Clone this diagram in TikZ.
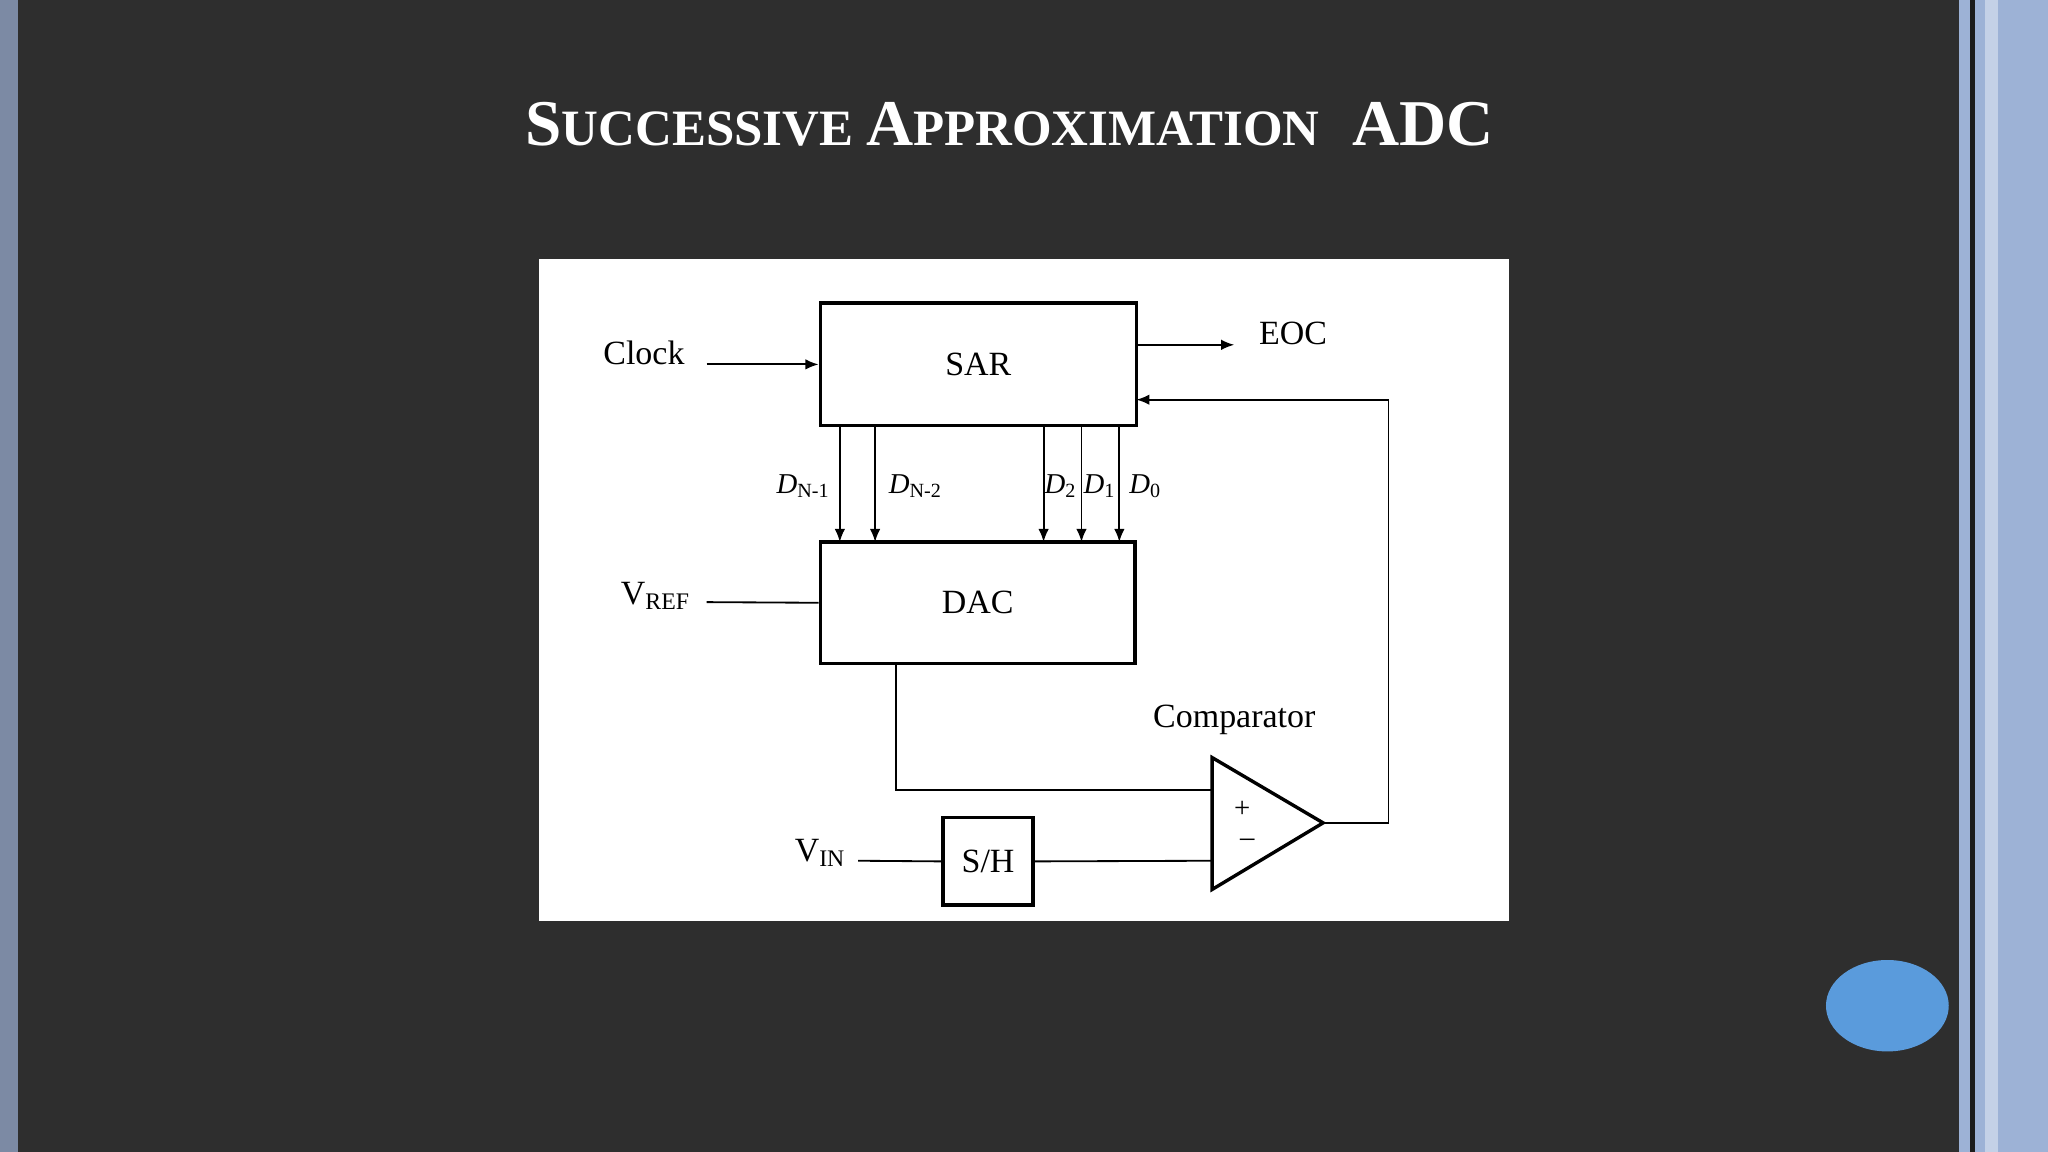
\documentclass[tikz,border=0pt]{standalone}
\usepackage{fontspec}
\setmainfont{Liberation Serif}
\usetikzlibrary{arrows.meta}
\definecolor{bg}{HTML}{2E2E2E}
\definecolor{band}{HTML}{9DB2D6}
\definecolor{dot}{HTML}{5A9BDC}
\begin{document}
\begin{tikzpicture}[x=0.5pt,y=-0.5pt,
  box/.style={draw,line width=1.3pt,inner sep=0pt,font=\fontsize{13}{15}\selectfont},
  lbl/.style={font=\fontsize{13}{15}\selectfont,inner sep=1pt},
  wire/.style={line width=0.7pt},
  arr/.style={wire,-{Latex[length=5pt,width=4pt]}}]
\useasboundingbox (0,0) rectangle (1568,882);
\fill[bg] (0,0) rectangle (1568,882);
\fill[band!70!bg] (0,0) rectangle (14,882);
\fill[band] (1500,0) rectangle (1568,882);
\fill[band!60!white] (1520,0) rectangle (1530,882);
\draw[bg!60!black,line width=2pt] (1510,0) -- (1510,882);
\node[text=white,font=\bfseries] (title) at (773,95) {\fontsize{25}{28}\selectfont S\fontsize{19.5}{22}\selectfont UCCESSIVE \fontsize{25}{28}\selectfont A\fontsize{19.5}{22}\selectfont PPROXIMATION\fontsize{25}{28}\selectfont\ \ ADC};
\fill[white] (413,198) rectangle (1155,705);
\fill[dot] (1445,770) ellipse [x radius=47, y radius=35];
\node[box,minimum width=121pt,minimum height=47pt] (sar) at (749,279) {SAR};
\node[box,minimum width=120.5pt,minimum height=46.5pt] (dac) at (748.5,461.5) {DAC};
\node[box,minimum width=34.5pt,minimum height=33.5pt] (sh) at (756.5,659.5) {S/H};
\node[lbl] (clk) at (493,270) {Clock};
\node[lbl] (eoc) at (990,255) {EOC};
\node[lbl] (vref) at (502,456) {V\textsubscript{REF}};
\node[lbl] (vin) at (628,653) {V\textsubscript{IN}};
\node[lbl] (cmp) at (945,551) {Comparator};
\draw[line width=1.3pt] (928,580) coordinate (cl1) -- (1013,630) coordinate (out) -- (928,681) coordinate (cl2) -- cycle;
\node[font=\fontsize{11}{13}\selectfont] (plus) at (951,620) {+};
\node[font=\fontsize{11}{13}\selectfont] (minus) at (955,645) {--};
\coordinate (inp) at (928,605); \coordinate (inm) at (928,659);
\draw[arr] (541,279) -- (sar.west);
\draw[arr] (870,264) -- (945,264);
\draw[arr] (out) -- (1063,630) -- (1063,306) -- (870,306);
\foreach \x in {643,670,799,828,857} \draw[arr] (\x,326) -- (\x,415);
\node[lbl,font=\fontsize{11}{13}\selectfont] (d1) at (615,372) {\textit{D}\textsubscript{N-1}};
\node[lbl,font=\fontsize{11}{13}\selectfont] (d2) at (701,372) {\textit{D}\textsubscript{N-2}};
\node[lbl,font=\fontsize{11}{13}\selectfont] (d3) at (812,372) {\textit{D}\textsubscript{2}};
\node[lbl,font=\fontsize{11}{13}\selectfont] (d4) at (842,372) {\textit{D}\textsubscript{1}};
\node[lbl,font=\fontsize{11}{13}\selectfont] (d5) at (877,372) {\textit{D}\textsubscript{0}};
\draw[wire] (541,461) -- (dac.west);
\draw[wire] (686,508) -- (686,605) -- (inp);
\draw[wire] (657,659) -- (sh.west);
\draw[wire] (sh.east) -- (inm);
\end{tikzpicture}
\end{document}
